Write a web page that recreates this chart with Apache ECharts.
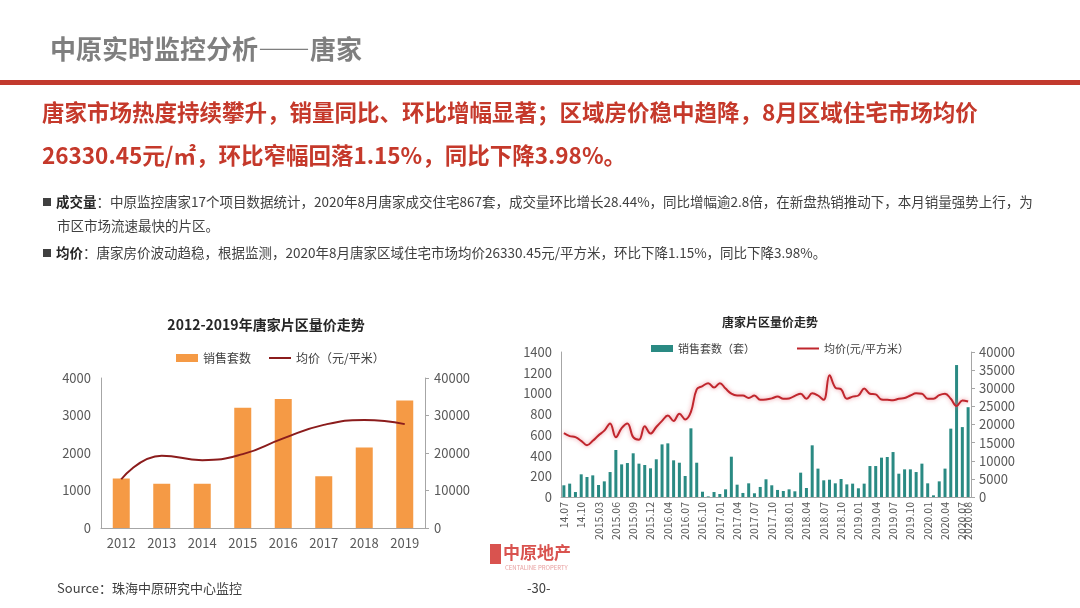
<!DOCTYPE html>
<html lang="zh-CN">
<head>
<meta charset="UTF-8">
<title>中原实时监控分析——唐家</title>
<script src="https://cdn.jsdelivr.net/npm/echarts/dist/echarts.min.js"></script>
<style>
	body{margin:0;width:1080px;height:608px;position:relative;overflow:hidden;background:#fff;
		font-family:"Noto Sans CJK SC","Noto Sans",sans-serif;}
	#main{position:absolute;left:0;top:0;width:1080px;height:608px;}
	.t{position:absolute;white-space:nowrap;}
	#head{left:50px;top:30px;font-size:26px;font-weight:bold;color:#7f7f7f;line-height:36px;}
	#bar{position:absolute;left:0;top:80px;width:1080px;height:5px;background:#c23a2e;}
	#lead{left:42px;top:90px;font-size:22.5px;font-weight:bold;color:#c5392b;line-height:43px;}
	.b{font-size:13.5px;color:#404040;line-height:24px;}
	.b i{font-style:normal;font-size:10px;color:#404040;margin-right:4px;vertical-align:1px;}
	.b b{color:#262626;}
	#foot{left:57px;top:578px;font-size:13px;color:#404040;}
	#page{left:527px;top:578px;font-size:13px;color:#404040;}
	#logo{left:503px;top:541px;font-size:17px;font-weight:bold;color:#d9534f;line-height:22px;}
	#logo2{left:505px;top:563px;font-size:6px;color:#e8a0a0;}
	#icon{position:absolute;left:490px;top:544px;width:11px;height:20px;background:#d9534f;}
</style>
</head>
<body>
	<div id="main"></div>
	<div class="t" id="head">中原实时监控分析——唐家</div>
	<div id="bar"></div>
	<div class="t" id="lead">唐家市场热度持续攀升，销量同比、环比增幅显著；区域房价稳中趋降，8月区域住宅市场均价<br>26330.45元/㎡，环比窄幅回落1.15%，同比下降3.98%。</div>
	<div class="t b" style="left:42px;top:189px;"><i>■</i><b>成交量</b>：中原监控唐家17个项目数据统计，2020年8月唐家成交住宅867套，成交量环比增长28.44%，同比增幅逾2.8倍，在新盘热销推动下，本月销量强势上行，为</div>
	<div class="t b" style="left:57px;top:213px;">市区市场流速最快的片区。</div>
	<div class="t b" style="left:42px;top:240px;"><i>■</i><b>均价</b>：唐家房价波动趋稳，根据监测，2020年8月唐家区域住宅市场均价26330.45元/平方米，环比下降1.15%，同比下降3.98%。</div>
	<div id="icon"></div>
	<div class="t" id="logo">中原地产</div>
	<div class="t" id="logo2">CENTALINE PROPERTY</div>
	<div class="t" id="foot">Source：珠海中原研究中心监控</div>
	<div class="t" id="page">-30-</div>
	<script>
		// 2012-2019 年度数据
		var yearCats = ['2012', '2013', '2014', '2015', '2016', '2017', '2018', '2019'];
		var yearSales = [1320, 1180, 1180, 3210, 3440, 1380, 2150, 3400];
		var yearPrice = [13000, 19300, 18100, 19700, 23900, 27500, 28800, 27700];

		// 月度数据 14.07 - 2020.08
		var monthCats = ['14.07', '14.08', '14.09', '14.10', '14.11', '14.12',
			'2015.03', '2015.04', '2015.05', '2015.06', '2015.07', '2015.08', '2015.09', '2015.10', '2015.11', '2015.12',
			'2016.01', '2016.03', '2016.04', '2016.05', '2016.06', '2016.07', '2016.08', '2016.09', '2016.10', '2016.11', '2016.12',
			'2017.01', '2017.02', '2017.03', '2017.04', '2017.05', '2017.06', '2017.07', '2017.08', '2017.09', '2017.10', '2017.11', '2017.12',
			'2018.01', '2018.02', '2018.03', '2018.04', '2018.05', '2018.06', '2018.07', '2018.08', '2018.09', '2018.10', '2018.11', '2018.12',
			'2019.01', '2019.02', '2019.03', '2019.04', '2019.05', '2019.06', '2019.07', '2019.08', '2019.09', '2019.10', '2019.11', '2019.12',
			'2020.01', '2020.02', '2020.03', '2020.04', '2020.05', '2020.06', '2020.07', '2020.08'];
		var monthSales = [113, 129, 48, 219, 193, 209, 116, 151, 241, 454,
			315, 328, 422, 322, 309, 277, 364, 508, 518, 354,
			331, 203, 663, 331, 51, 6, 48, 29, 74, 389,
			119, 39, 132, 36, 97, 171, 113, 68, 58, 74,
			55, 235, 87, 499, 274, 161, 167, 132, 174, 122,
			129, 84, 129, 299, 299, 380, 386, 434, 225, 267,
			267, 241, 322, 132, 16, 151, 274, 660, 1274, 675, 867];
		var monthPrice = [17600, 16800, 16500, 15500, 14300, 15500, 17000, 18300, 20300, 16500,
			19000, 20300, 16500, 15800, 19500, 17500, 19300, 21000, 22500, 21000,
			23000, 21400, 23500, 29700, 30600, 31400, 30200, 31400, 29900, 28500,
			28000, 28000, 27300, 28000, 26800, 26900, 27200, 27700, 27100, 27200,
			27900, 28500, 27100, 28600, 28000, 26800, 33600, 30200, 29700, 27100,
			27700, 28000, 29900, 28500, 28300, 26900, 26800, 26700, 27100, 27300,
			28000, 28600, 28500, 27100, 27100, 28100, 28500, 27100, 25100, 26640, 26330.45];

		var last = monthPrice.length - 1;
		var priceData = monthPrice.map(function (v, i) {
			if (i !== last) return v;
			return {
				value: v,
				label: {
					show: true, position: 'top', offset: [-33, -12],
					formatter: '{c}', color: '#c0262d', fontSize: 13, fontWeight: 'bold'
				}
			};
		});

		var axisGray = '#a6a6a6';
		var labelGray = '#595959';
		var plain = function (v) { return String(v); };
		// 图例里的细线（外框比例与图例图标一致）
		var lineIconA = 'path://M0,0L0.01,0M0,3L22,3L22,5L0,5ZM22,8L21.99,8';
		var lineIconB = 'path://M0,0L0.01,0M0,2.5L22,2.5L22,4.5L0,4.5ZM22,7L21.99,7';

		var monthLabel = {color: labelGray, fontSize: 10.5, rotate: 90, margin: 5};

		var myChart = echarts.init(document.getElementById('main'));
		var option = {
			animation: false,
			textStyle: {fontFamily: '"Noto Sans CJK SC", "Noto Sans", sans-serif'},
			graphic: [
				{type: 'text', x: 266, y: 325, style: {text: '2012-2019年唐家片区量价走势', textAlign: 'center', textVerticalAlign: 'middle',
					fontSize: 14, fontWeight: 'bold', fill: '#262626', fontFamily: '"Noto Sans CJK SC", sans-serif'}},
				{type: 'text', x: 770, y: 322, style: {text: '唐家片区量价走势', textAlign: 'center', textVerticalAlign: 'middle',
					fontSize: 12, fontWeight: 'bold', fill: '#262626', fontFamily: '"Noto Sans CJK SC", sans-serif'}}
			],
			legend: [
				{
					data: [{name: '销售套数', icon: 'rect'},
						{name: '均价（元/平米）', icon: lineIconA, itemStyle: {color: '#8b1c1c'}}],
					left: 171, top: 347,
					itemWidth: 22, itemHeight: 8, itemGap: 18,
					textStyle: {fontSize: 12, color: '#404040'}
				},
				{
					data: [{name: '销售套数（套）', icon: 'rect'},
						{name: '均价(元/平方米）', icon: lineIconB, itemStyle: {color: '#c0262d'}}],
					left: 646, top: 338,
					itemWidth: 22, itemHeight: 7, itemGap: 42,
					textStyle: {fontSize: 11, color: '#404040'}
				}
			],
			grid: [
				{left: 101, top: 378, width: 324, height: 150},
				{left: 561, top: 352, width: 410, height: 145}
			],
			xAxis: [
				{
					gridIndex: 0, type: 'category', data: yearCats,
					axisLine: {lineStyle: {color: axisGray}},
					axisTick: {show: false},
					axisLabel: {color: labelGray, fontSize: 13, margin: 9}
				},
				{
					gridIndex: 1, type: 'category', data: monthCats, position: 'bottom',
					axisLine: {lineStyle: {color: axisGray}},
					axisTick: {show: false},
					axisLabel: Object.assign({
						interval: function (i) { return i % 3 === 0; }
					}, monthLabel)
				},
				{
					// 只负责最后一个月的标签，与上一个标签挨得太近会被自动隐藏
					gridIndex: 1, type: 'category', data: monthCats, position: 'bottom',
					axisLine: {show: false}, axisTick: {show: false},
					axisLabel: Object.assign({
						showMaxLabel: true, showMinLabel: false, padding: [4, 0, 0, 0],
						interval: function (i) { return i === last; }
					}, monthLabel)
				}
			],
			yAxis: [
				{
					gridIndex: 0, min: 0, max: 4000, interval: 1000,
					axisLine: {show: true, lineStyle: {color: axisGray}},
					axisTick: {show: false}, splitLine: {show: false},
					axisLabel: {color: labelGray, fontSize: 13, margin: 10, formatter: plain}
				},
				{
					gridIndex: 0, position: 'right', min: 0, max: 40000, interval: 10000,
					axisLine: {show: true, lineStyle: {color: axisGray}},
					axisTick: {show: true, length: 4, lineStyle: {color: axisGray}}, splitLine: {show: false},
					axisLabel: {color: labelGray, fontSize: 13, margin: 9, formatter: plain}
				},
				{
					gridIndex: 1, min: 0, max: 1400, interval: 200,
					axisLine: {show: true, lineStyle: {color: axisGray}},
					axisTick: {show: false}, splitLine: {show: false},
					axisLabel: {color: labelGray, fontSize: 13, margin: 9, formatter: plain}
				},
				{
					gridIndex: 1, position: 'right', min: 0, max: 40000, interval: 5000,
					axisLine: {show: true, lineStyle: {color: axisGray}},
					axisTick: {show: true, length: 4, lineStyle: {color: axisGray}}, splitLine: {show: false},
					axisLabel: {color: labelGray, fontSize: 13, margin: 8, formatter: plain}
				}
			],
			series: [
				{
					name: '销售套数', type: 'bar', xAxisIndex: 0, yAxisIndex: 0,
					data: yearSales, barWidth: 17,
					itemStyle: {color: '#f59a45'}
				},
				{
					name: '均价（元/平米）', type: 'line', xAxisIndex: 0, yAxisIndex: 1,
					data: yearPrice, smooth: true, symbol: 'none',
					lineStyle: {color: '#8b1c1c', width: 2}, itemStyle: {color: '#8b1c1c'}
				},
				{
					name: '销售套数（套）', type: 'bar', xAxisIndex: 1, yAxisIndex: 2,
					data: monthSales, barWidth: 3,
					itemStyle: {color: '#2a8a83'}
				},
				{
					name: '均价(元/平方米）', type: 'line', xAxisIndex: 1, yAxisIndex: 3,
					data: priceData, smooth: 0.4, symbol: 'none',
					lineStyle: {color: '#c0262d', width: 2, shadowColor: 'rgba(235,130,140,0.9)', shadowBlur: 4},
					itemStyle: {color: '#c0262d'}
				}
			]
		};
		myChart.setOption(option);
	</script>
</body>
</html>
